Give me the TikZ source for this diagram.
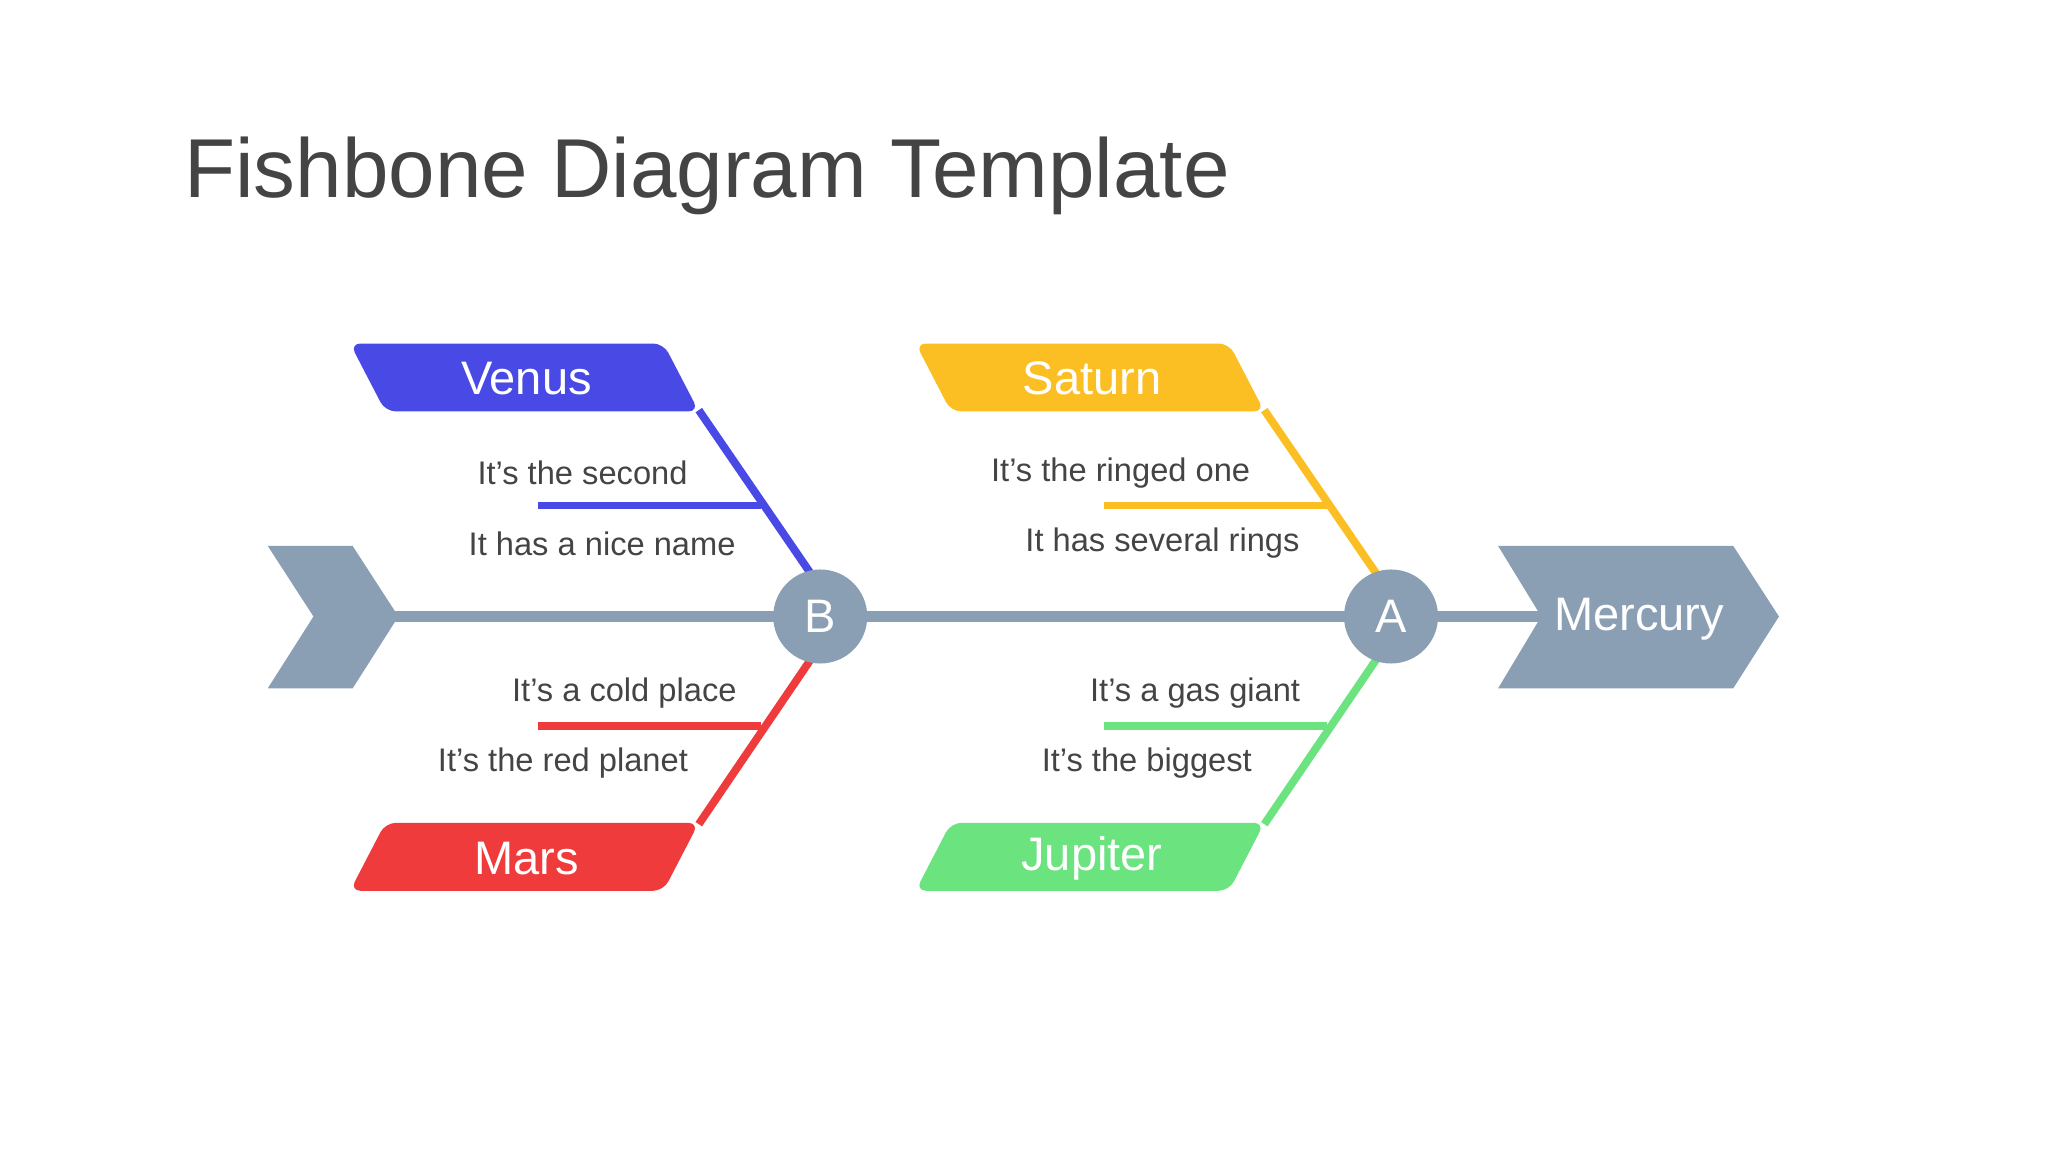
\documentclass[tikz,border=0pt]{standalone}
\usepackage{fontspec}
\setmainfont{Liberation Sans}
\definecolor{cblue}{HTML}{4949E6}
\definecolor{cyel}{HTML}{FBBF24}
\definecolor{cred}{HTML}{EF3B3B}
\definecolor{cgreen}{HTML}{6BE37E}
\definecolor{cgray}{HTML}{8A9FB3}
\definecolor{ctext}{HTML}{444444}
\begin{document}
\begin{tikzpicture}[x=0.5pt,y=-0.5pt,
  tag/.style={rounded corners=4pt},
  tagtxt/.style={text=white,font=\fontsize{18}{20}\selectfont},
  small/.style={text=ctext,font=\fontsize{12.5}{14}\selectfont},
  bone/.style={line width=3pt},
  hub/.style={circle,fill=cgray,minimum size=36pt,inner sep=0pt,text=white,font=\fontsize{18}{20}\selectfont}]
\useasboundingbox (0,0) rectangle (1568,882);
\node[anchor=west,text=ctext,font=\fontsize{32}{36}\selectfont] (title) at (134,135) {Fishbone Diagram Template};
% spine
\fill[cgray] (205,418) -- (270,418) -- (305,472) -- (270,527) -- (205,527) -- (240,472) -- cycle;
\coordinate (tail) at (300,472);
\coordinate (head) at (1180,472);
\draw[cgray,line width=4pt] (tail) -- (head);
\fill[cgray] (1147,418) -- (1327,418) -- (1362,472) -- (1327,527) -- (1147,527) -- (1180,472) -- cycle;
\node[tagtxt] (mercury) at (1255,474) {Mercury};
% bones
\foreach \dx/\col/\top/\bot/\ta/\tb/\xa/\xb/\hubname in {
  0/cblue/Venus/x/{It’s the second}/{It has a nice name}/446/461/B,
  433/cyel/Saturn/x/{It’s the ringed one}/{It has several rings}/858/890/A}{
  \begin{scope}[xshift=\dx*0.5pt]
  \fill[\col,tag] (268,263) -- (508,263) -- (535,315) -- (295,315) -- cycle;
  \node[tagtxt] at (403,290) {\top};
  \draw[\col,bone] (535,314) -- (622,441);
  \draw[\col,bone] (412,387) -- (583,387);
  \end{scope}
}
\node[small] (t1) at (446,362) {It’s the second};
\node[small] (t2) at (461,416) {It has a nice name};
\node[small] (t3) at (858,362) {It’s the ringed one};
\node[small] (t4) at (890,416) {It has several rings};
\foreach \dx/\col/\top in {0/cred/Mars,433/cgreen/Jupiter}{
  \begin{scope}[xshift=\dx*0.5pt]
  \fill[\col,tag] (295,630) -- (535,630) -- (508,682) -- (268,682) -- cycle;
  \node[tagtxt] at (403,657) {\top};
  \draw[\col,bone] (535,631) -- (622,503);
  \draw[\col,bone] (412,556) -- (583,556);
  \end{scope}
}
\node[small] (t5) at (478,531) {It’s a cold place};
\node[small] (t6) at (431,584) {It’s the red planet};
\node[small] (t7) at (915,531) {It’s a gas giant};
\node[small] (t8) at (878,584) {It’s the biggest};
\node[hub] (B) at (628,472) {B};
\node[hub] (A) at (1065,472) {A};
\end{tikzpicture}
\end{document}
